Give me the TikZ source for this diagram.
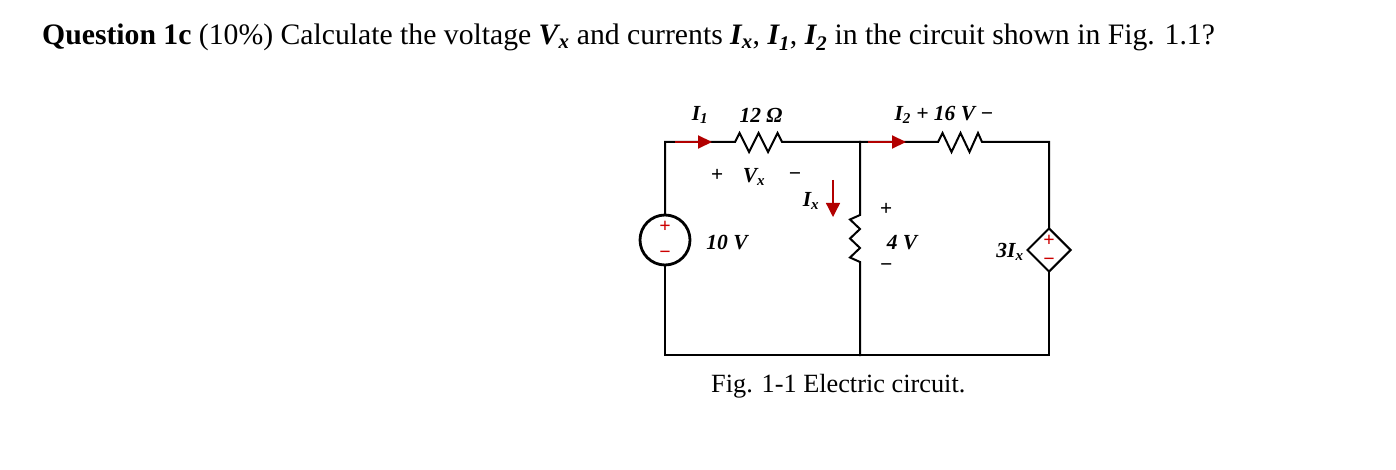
\documentclass[tikz,border=0pt]{standalone}
\usepackage{fontspec}
\setmainfont{Liberation Serif}
\usetikzlibrary{shapes.geometric,arrows.meta}
\begin{document}
\begin{tikzpicture}[x=1pt,y=-1pt,
  wire/.style={line width=2pt,line cap=rect,line join=miter},
  lab/.style={font=\fontsize{21.5}{21.5}\selectfont\bfseries\itshape,inner sep=0},
  cur/.style={draw=red!70!black,line width=2pt,-{Triangle[length=14pt,width=13pt]}},
  sgn/.style={text=red!80!black,font=\fontsize{20}{20}\selectfont\bfseries,inner sep=0}]
\useasboundingbox (0,0) rectangle (1396,470);
\node[anchor=base west,inner sep=0,font=\fontsize{29.7}{29.7}\selectfont] (title) at (42,45)
 {\textbf{Question 1c} (10\%) Calculate the voltage \textbf{\textit{V\textsubscript{x}}} and currents \textbf{\textit{I\textsubscript{x}}}, \textbf{\textit{I\textsubscript{1}}}, \textbf{\textit{I\textsubscript{2}}} in the circuit shown in Fig. 1.1?};
\coordinate (tl) at (665,142); \coordinate (tm) at (860,142); \coordinate (tr) at (1049,142);
\coordinate (bl) at (665,355); \coordinate (bm) at (860,355); \coordinate (br) at (1049,355);
\node[circle,draw,line width=2.8pt,minimum size=50pt,inner sep=0] (vs) at (665,240) {};
\node[diamond,draw,line width=2pt,minimum width=44pt,minimum height=44pt,inner sep=0] (ds) at (1049,250) {};
\coordinate (r1a) at (735,142); \coordinate (r1b) at (782,142);
\coordinate (r2a) at (938,142); \coordinate (r2b) at (982,142);
\coordinate (r3a) at (860,215); \coordinate (r3b) at (860,262);
\draw[wire] (vs.north) -- (tl) -- (r1a) -- ++(4.5,-9) -- ++(9.5,19) -- ++(9.5,-19) -- ++(9.5,19) -- ++(9.5,-19) -- (r1b) -- (tm) -- (r2a) -- ++(4.5,-9) -- ++(9,19) -- ++(9,-19) -- ++(9,19) -- ++(8.5,-19) -- (r2b) -- (tr) -- (ds.north);
\draw[wire] (ds.south) -- (br) -- (bl) -- (vs.south);
\draw[wire] (tm) -- (r3a) -- ++(-10,4.5) -- ++(10,9.5) -- ++(-10,9.5) -- ++(10,9.5) -- ++(-10,9.5) -- (r3b) -- (bm);
\coordinate (a1s) at (675,142); \coordinate (a1e) at (712,142);
\coordinate (a2s) at (868,142); \coordinate (a2e) at (906,142);
\coordinate (axs) at (833,180); \coordinate (axe) at (833,217);
\draw[cur] (a1s) -- (a1e);
\draw[cur] (a2s) -- (a2e);
\draw[draw=red!70!black,line width=1.3pt,-{Triangle[length=14pt,width=14pt]}] (axs) -- (axe);
\node[lab] (li1) at (700,115) {I\textsubscript{1}};
\node[lab] (lr1) at (761,115) {12 Ω};
\node[lab] (li2) at (944,115) {I\textsubscript{2} + 16 V −};
\node[lab] (lp) at (717,175) {+};
\node[lab] (lvx) at (754,177) {V\textsubscript{x}};
\node[lab] (lm) at (795,177) {−};
\node[lab] (lix) at (811,201) {I\textsubscript{x}};
\node[lab] (lp4) at (886,209) {+};
\node[lab] (l4) at (902,243) {4 V};
\node[lab] (lm4) at (886,268) {−};
\node[lab] (l10) at (727,243) {10 V};
\node[lab] (l3) at (1010,252) {3I\textsubscript{x}};
\node[sgn] (vsp) at (665,227) {+};
\node[sgn] (vsm) at (665,255) {−};
\node[sgn] (dsp) at (1049,241) {+};
\node[sgn] (dsm) at (1049,262) {−};
\node[anchor=base west,inner sep=0,font=\fontsize{26.3}{26.3}\selectfont] (cap) at (711,392) {Fig. 1-1 Electric circuit.};
\end{tikzpicture}
\end{document}
